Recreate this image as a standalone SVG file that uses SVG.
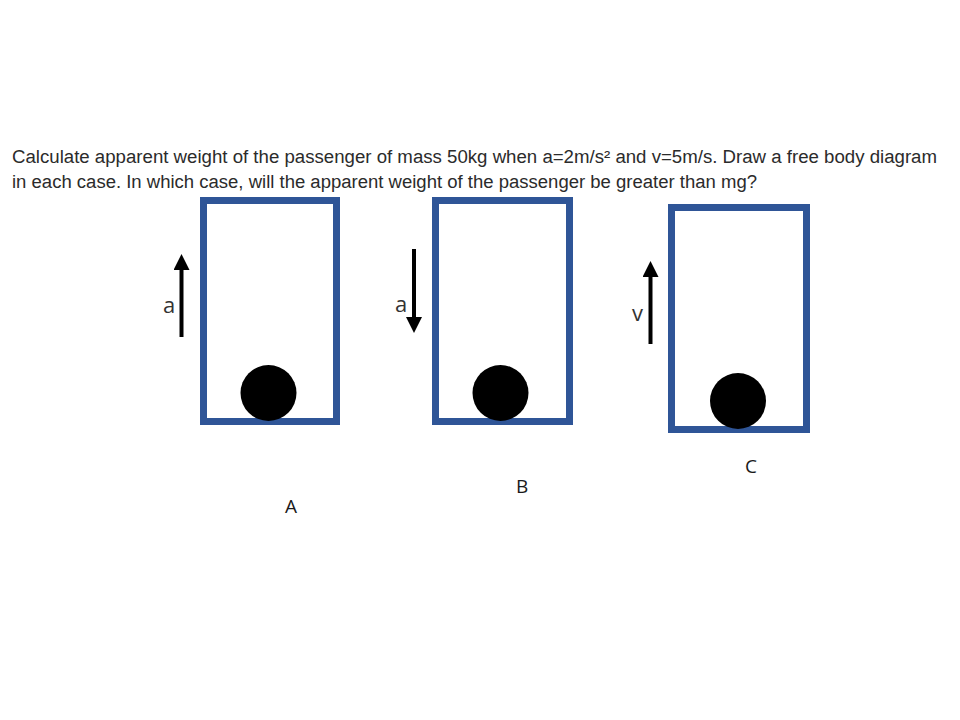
<svg xmlns="http://www.w3.org/2000/svg" width="960" height="720" viewBox="0 0 960 720">
  <style>
    .q { font-family: "Liberation Sans", "Open Sans", sans-serif; font-size: 18px; fill: #2b2b2b; }
    .lbl { font-family: "Open Sans", "Liberation Sans", sans-serif; font-size: 22px; fill: #333; }
    .cap { font-family: "Open Sans", "Liberation Sans", sans-serif; font-size: 19px; fill: #1a1a1a; }
    .box { fill: none; stroke: #2f5597; stroke-width: 7; }
    .ball { fill: #000; }
    .arrow { stroke: #000; stroke-width: 4; fill: none; }
  </style>
  <defs>
    <marker id="head" viewBox="0 0 10 10" refX="5" refY="5" markerWidth="4" markerHeight="4" orient="auto" markerUnits="strokeWidth">
      <path d="M0,0 L10,5 L0,10 Z" fill="#000"/>
    </marker>
  </defs>
  <rect width="960" height="720" fill="#fff"/>

  <g id="question">
    <text class="q" x="12" y="163" textLength="925" lengthAdjust="spacingAndGlyphs">Calculate apparent weight of the passenger of mass 50kg when a=2m/s² and v=5m/s. Draw a free body diagram</text>
    <text class="q" x="12" y="188" textLength="745" lengthAdjust="spacingAndGlyphs">in each case. In which case, will the apparent weight of the passenger be greater than mg?</text>
  </g>

  <g id="elevatorA">
    <rect class="box" x="203.5" y="200.5" width="133" height="221"/>
    <circle class="ball" cx="268.5" cy="393" r="28"/>
    <text class="lbl" x="163" y="313">a</text>
    <text class="cap" x="285" y="513">A</text>
  </g>

  <g id="elevatorB">
    <rect class="box" x="435.5" y="200.5" width="134" height="221"/>
    <circle class="ball" cx="500.5" cy="393" r="28"/>
    <text class="lbl" x="395" y="312">a</text>
    <text class="cap" x="516" y="493">B</text>
  </g>

  <g id="elevatorC">
    <rect class="box" x="671.5" y="207.5" width="135" height="222"/>
    <circle class="ball" cx="738" cy="401" r="28"/>
    <text class="lbl" x="632" y="321">v</text>
    <text class="cap" x="745" y="473">C</text>
  </g>

  <g id="connectors">
    <line class="arrow" x1="181.5" y1="337" x2="181.5" y2="262" marker-end="url(#head)"/>
    <line class="arrow" x1="414" y1="249" x2="414" y2="325" marker-end="url(#head)"/>
    <line class="arrow" x1="650.5" y1="344" x2="650.5" y2="269" marker-end="url(#head)"/>
  </g>
</svg>
